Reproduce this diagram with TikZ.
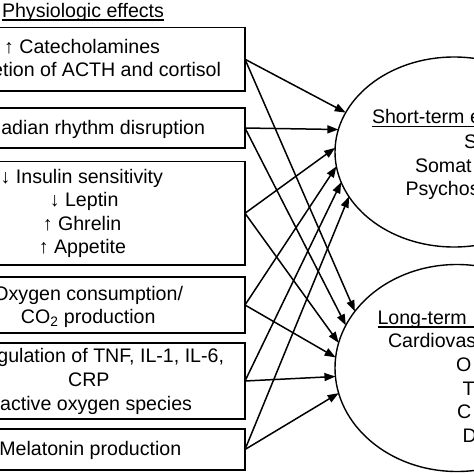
\documentclass[tikz,border=0pt]{standalone}
\usepackage{fontspec}
\setmainfont{Liberation Sans}
\usetikzlibrary{arrows.meta,shapes.geometric}
\begin{document}
\begin{tikzpicture}[x=1pt,y=-1pt,
  pbox/.style={draw,line width=1.9pt,minimum width=325pt,inner sep=0pt,outer sep=0pt,anchor=north west},
  effoval/.style={ellipse,draw,line width=1.4pt,inner sep=0pt,outer sep=0pt},
  txt/.style={inner sep=0pt,outer sep=0pt,font=\fontsize{19.6}{23.5}\selectfont},
  lbl/.style={txt,anchor=base east},
  ltxt/.style={txt,anchor=base west},
  arr/.style={line width=1.5pt,-{Triangle[length=11pt,width=8pt]}},
  uline/.style={line width=1.3pt}]
\useasboundingbox (0,0) rectangle (474,474);
\clip (0,0) rectangle (474,474);
% boxes
\node[pbox,minimum height=63.5pt] (b1) at (-80,27.5) {};
\node[pbox,minimum height=40pt] (b2) at (-80,108) {};
\node[pbox,minimum height=103.5pt] (b3) at (-80,161.5) {};
\node[pbox,minimum height=56pt] (b4) at (-80,277) {};
\node[pbox,minimum height=76pt] (b5) at (-80,343) {};
\node[pbox,minimum height=41pt] (b6) at (-80,429) {};
% ellipses
\node[effoval,minimum width=238pt,minimum height=190pt] (st) at (454,152) {};
\node[effoval,minimum width=244pt,minimum height=207pt] (lt) at (457,368) {};
% title
\node[ltxt] (title) at (2,17.5) {Physiologic effects};
\draw[uline] ([yshift=-2.5pt]title.base west) -- ([yshift=-2.5pt]title.base east);
% box texts
\node[lbl] (t1a) at (160,53) {↑ Catecholamines};
\node[lbl] (t1b) at (221,76) {etion of ACTH and cortisol};
\node[lbl] (t2) at (205,134) {adian rhythm disruption};
\node[lbl] (t3a) at (163,183) {↓ Insulin sensitivity};
\node[lbl] (t3b) at (118.5,206.7) {↓ Leptin};
\node[lbl] (t3c) at (121.3,230) {↑ Ghrelin};
\node[lbl] (t3d) at (126,253.7) {↑ Appetite};
\node[lbl] (t4a) at (183,300.7) {Oxygen consumption/};
\node[lbl] (t4b) at (155.5,323.3) {CO\textsubscript{2} production};
\node[lbl] (t5a) at (224,362.7) {gulation of TNF, IL-1, IL-6,};
\node[lbl] (t5b) at (109.5,386.7) {CRP};
\node[lbl] (t5c) at (192,410) {active oxygen species};
\node[lbl] (t6) at (181.3,455) {Melatonin production};
% ellipse texts
\node[ltxt] (s0) at (372,123.5) {Short-term e};
\draw[uline] ([yshift=-3pt]s0.base west) -- ([yshift=-3pt]s0.base east);
\node[ltxt] (s1) at (464,148) {S};
\node[ltxt] (s2) at (415,172.7) {Somat};
\node[ltxt] (s3) at (405.5,195) {Psychos};
\node[ltxt] (l0) at (377.5,324) {Long-term};
\draw[uline] ([yshift=-3pt]l0.base west) -- ([yshift=-3pt,xshift=20pt]l0.base east);
\node[ltxt] (l1) at (388,347) {Cardiovas};
\node[ltxt] (l2) at (456,371) {O};
\node[ltxt] (l3) at (462.5,395) {T};
\node[ltxt] (l4) at (457,418) {C};
\node[ltxt] (l5) at (462.5,442) {D};
% connectors
\foreach \b/\s/\l in {b1/160/151, b2/169/159, b3/178/168, b4/187/175, b5/195/184, b6/203/192} {
  \draw[arr] (\b.east) -- (st.\s);
  \draw[arr] (\b.east) -- (lt.\l);
}
\end{tikzpicture}
\end{document}
